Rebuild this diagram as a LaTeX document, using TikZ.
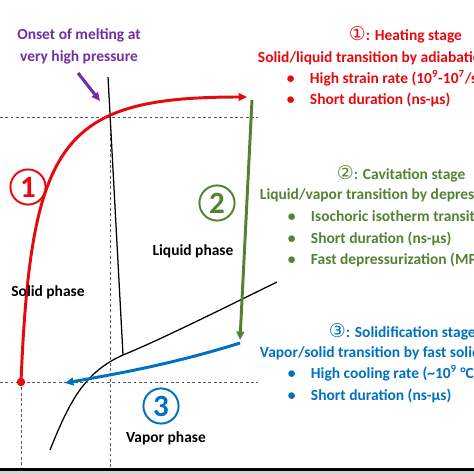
\documentclass[tikz,border=0pt]{standalone}
\usepackage{fontspec}
\setmainfont{Carlito}
\newfontfamily\circfont{DejaVu Sans}
\usetikzlibrary{arrows.meta,positioning,calc}
\definecolor{heatred}{RGB}{230,10,15}
\definecolor{cavgreen}{RGB}{84,130,53}
\definecolor{solblue}{RGB}{0,112,192}
\definecolor{onset}{RGB}{112,48,160}
\newcommand{\stagemark}[1]{{\circfont\mdseries\fontsize{13.5}{13}\selectfont #1}}
\begin{document}
\begin{tikzpicture}[x=0.025cm,y=-0.025cm,font=\bfseries\fontsize{11}{13}\selectfont,
  guide/.style={gray!70!black,line width=0.6pt,dash pattern=on 2pt off 1.8pt},
  stagenum/.style={circle,draw,line width=1.4pt,minimum size=25pt,inner sep=0pt,font=\bfseries\fontsize{22}{22}\selectfont},
  info/.style={anchor=base west},
  tip/.style={-{Triangle[length=6pt,width=5.5pt]}}]
  \useasboundingbox (0,0) rectangle (474,474);
  \clip (0,0) rectangle (474,474);
  \coordinate (g1) at (0,117); \coordinate (g2) at (258,117); \coordinate (g3) at (110,470);
  \coordinate (g4) at (0,382); \coordinate (g5) at (258,382); \coordinate (g6) at (21,470);
  \coordinate (melt) at (110,117); \coordinate (start) at (21,382);
  \draw[guide] (g1) -- (g2) (melt) -- (g3) (g4) -- (g5) (start) -- (g6);
  % phase boundaries
  \coordinate (mtop) at (108,77); \coordinate (mbot) at (123,355);
  \coordinate (vlow) at (50,450); \coordinate (vhigh) at (277,282);
  \draw[line width=0.9pt] (mtop) -- (mbot);
  \draw[line width=0.9pt] (vlow) .. controls (70,400) and (85,372) .. (mbot) .. controls (160,340) and (230,305) .. (vhigh);
  % stages
  \coordinate (heatend) at (247,97);
  \coordinate (cavtop) at (252,100); \coordinate (cavend) at (240,340);
  \coordinate (soltop) at (240,343); \coordinate (solend) at (65,383);
  \draw[heatred,line width=2.1pt,tip] (start) .. controls (31,140) and (62,97) .. (heatend);
  \draw[cavgreen,line width=2.1pt,tip] (cavtop) -- (cavend);
  \draw[solblue,line width=2.1pt,tip] (soltop) .. controls (170,365) and (110,375) .. (solend);
  \node[circle,fill=heatred,inner sep=0pt,minimum size=6pt] (dot) at (start) {};
  \node[stagenum,heatred] (n1) at (28,187) {1};
  \node[stagenum,cavgreen] (n2) at (217,203) {2};
  \node[stagenum,solblue] (n3) at (161,406) {3};
  \node (solidph) at (48,292) {Solid phase};
  \node (liquidph) at (193,251) {Liquid phase};
  \node (vaporph) at (166,438) {Vapor phase};
  % onset label
  \node[text=onset,align=center,font=\bfseries\fontsize{11}{15.6}\selectfont] (onsetlbl) at (79,46) {Onset of melting at\\very high pressure};
  \coordinate (onsetfrom) at (78,73); \coordinate (onsetto) at (100,101);
  \draw[onset,line width=2.2pt,tip] (onsetfrom) -- (onsetto);
  % heating stage
  \begin{scope}[text=heatred]
    \node[info] (h0) at (344,40) {\stagemark{①}: Heating stage};
    \node[info] (h1) at (253,62) {Solid/liquid transition by adiabatic heating};
    \foreach \y/\t in {83/{High strain rate (10\textsuperscript{9}-10\textsuperscript{7}/s)},104/{Short duration (ns-µs)}}{
      \node[info] (hb\y) at (282,\y) {•}; \node[info] (ht\y) at (305,\y) {\t};}
  \end{scope}
  % cavitation stage
  \begin{scope}[text=cavgreen]
    \node[info] (c0) at (332,179) {\stagemark{②}: Cavitation stage};
    \node[info] (c1) at (255,199) {Liquid/vapor transition by depressurization};
    \foreach \y/\t in {221/{Isochoric isotherm transition},243/{Short duration (ns-µs)},264/{Fast depressurization (MPa/ns)}}{
      \node[info] (cb\y) at (283,\y) {•}; \node[info] (ct\y) at (306,\y) {\t};}
  \end{scope}
  % solidification stage
  \begin{scope}[text=solblue]
    \node[info] (s0) at (324,337) {\stagemark{③}: Solidification stage};
    \node[info] (s1) at (255,357) {Vapor/solid transition by fast solidification};
    \foreach \y/\t in {378/{High cooling rate (\textasciitilde10\textsuperscript{9} °C/s)},400/{Short duration (ns-µs)}}{
      \node[info] (sb\y) at (283,\y) {•}; \node[info] (st\y) at (306,\y) {\t};}
  \end{scope}
  \fill[gray!35] (0,471) rectangle (474,474);
  \draw[line width=1.8pt] (0,469.5) -- (474,469.5);
\end{tikzpicture}
\end{document}
